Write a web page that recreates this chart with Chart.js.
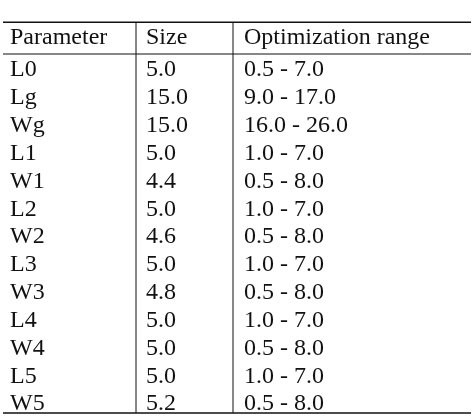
<!DOCTYPE html>
<html><head><meta charset="utf-8">
<script src="https://cdn.jsdelivr.net/npm/chart.js@4"></script>
<style>html,body{margin:0;padding:0;background:#fff}#c{display:block}</style>
</head><body>
<div style="width:474px;height:418px"><canvas id="c"></canvas></div>
<script>
const headers = ["Parameter", "Size", "Optimization range"];
const parameters = ["L0","Lg","Wg","L1","W1","L2","W2","L3","W3","L4","W4","L5","W5"];
const sizes = ["5.0","15.0","15.0","5.0","4.4","5.0","4.6","5.0","4.8","5.0","5.0","5.0","5.2"];
const ranges = ["0.5 - 7.0","9.0 - 17.0","16.0 - 26.0","1.0 - 7.0","0.5 - 8.0","1.0 - 7.0","0.5 - 8.0","1.0 - 7.0","0.5 - 8.0","1.0 - 7.0","0.5 - 8.0","1.0 - 7.0","0.5 - 8.0"];

const tablePlugin = {
  id: 'table',
  afterDraw(chart) {
    const ctx = chart.ctx, xs = chart.scales.x, ys = chart.scales.y;
    ctx.save();
    ctx.fillStyle = '#111'; ctx.strokeStyle = '#111';
    ctx.font = '24px "Liberation Serif", "Times New Roman", serif';
    ctx.textBaseline = 'middle';
    const colX = [10, 146, 244];
    headers.forEach((h, i) => ctx.fillText(h, xs.getPixelForValue(colX[i]), ys.getPixelForValue(-0.15)));
    parameters.forEach((p, r) => {
      const y = ys.getPixelForValue(r + 1);
      ctx.fillText(p, xs.getPixelForValue(colX[0]), y);
      ctx.fillText(sizes[r], xs.getPixelForValue(colX[1]), y);
      ctx.fillText(ranges[r], xs.getPixelForValue(colX[2]), y);
    });
    const top = ys.getPixelForValue(-0.72), hb = ys.getPixelForValue(0.425), bot = ys.getPixelForValue(13.32);
    const L = xs.getPixelForValue(3), R = xs.getPixelForValue(471);
    ctx.lineWidth = 1.5;
    [top, bot].forEach(y => { ctx.beginPath(); ctx.moveTo(L, y); ctx.lineTo(R, y); ctx.stroke(); });
    ctx.lineWidth = 1;
    ctx.beginPath(); ctx.moveTo(L, hb); ctx.lineTo(R, hb); ctx.stroke();
    [136, 233].forEach(x => {
      const px = xs.getPixelForValue(x);
      ctx.beginPath(); ctx.moveTo(px, top); ctx.lineTo(px, bot); ctx.stroke();
    });
    ctx.restore();
  }
};

new Chart(document.getElementById('c'), {
  type: 'scatter',
  data: { datasets: [{ data: [], pointRadius: 0 }] },
  options: {
    responsive: true, maintainAspectRatio: false, animation: false,
    layout: { padding: 0 },
    plugins: { legend: { display: false }, tooltip: { enabled: false } },
    scales: {
      x: { type: 'linear', min: 0, max: 474, display: false },
      y: { type: 'linear', min: -1.515, max: 13.5, reverse: true, display: false }
    }
  },
  plugins: [tablePlugin]
});
</script>
</body></html>
